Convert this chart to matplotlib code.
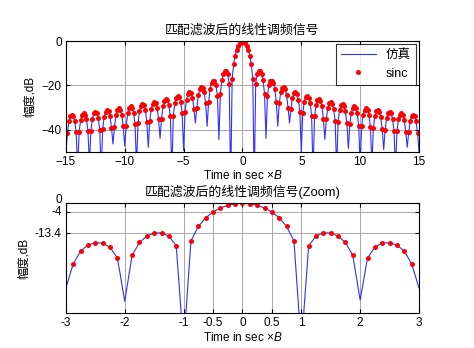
import numpy as np
import matplotlib
matplotlib.use("Agg")
import matplotlib.pyplot as plt

plt.rcParams['font.family'] = ['Liberation Sans', 'Noto Sans CJK SC']
plt.rcParams['mathtext.fontset'] = 'custom'
plt.rcParams['mathtext.rm'] = 'Liberation Sans'
plt.rcParams['mathtext.it'] = 'Liberation Sans:italic'

nan = np.nan

# sinc samples in dB, t*B = -15 ... 15, step 1/8 (zeros at the integers are nan)
sinc_db = [
    nan, -41.7, -36.3, -33.9, -33.2, -33.8, -36.0, -41.3,
    nan, -41.1, -35.7, -33.3, -32.6, -33.2, -35.4, -40.6,
    nan, -40.5, -35.1, -32.7, -31.9, -32.5, -34.7, -40.0,
    nan, -39.8, -34.4, -31.9, -31.2, -31.8, -34.0, -39.2,
    nan, -39.0, -33.6, -31.2, -30.4, -31.0, -33.2, -38.4,
    nan, -38.2, -32.7, -30.3, -29.5, -30.1, -32.3, -37.5,
    nan, -37.2, -31.8, -29.4, -28.5, -29.1, -31.3, -36.5,
    nan, -36.2, -30.7, -28.3, -27.4, -28.0, -30.2, -35.3,
    nan, -35.0, -29.5, -27.1, -26.2, -26.7, -28.9, -34.0,
    nan, -33.7, -28.1, -25.6, -24.8, -25.2, -27.4, -32.5,
    nan, -32.0, -26.5, -23.9, -23.0, -23.5, -25.5, -30.6,
    nan, -30.1, -24.4, -21.8, -20.8, -21.2, -23.2, -28.2,
    nan, -27.5, -21.7, -19.0, -17.9, -18.1, -20.0, -24.8,
    nan, -23.7, -17.8, -14.9, -13.5, -13.4, -14.9, -19.3,
    nan, -17.1, -10.5, -6.6, -3.9, -2.1, -0.9, -0.2,
    0.0, -0.2, -0.9, -2.1, -3.9, -6.6, -10.5, -17.1,
    nan, -19.3, -14.9, -13.4, -13.5, -14.9, -17.8, -23.7,
    nan, -24.8, -20.0, -18.1, -17.9, -19.0, -21.7, -27.5,
    nan, -28.2, -23.2, -21.2, -20.8, -21.8, -24.4, -30.1,
    nan, -30.6, -25.5, -23.5, -23.0, -23.9, -26.5, -32.0,
    nan, -32.5, -27.4, -25.2, -24.8, -25.6, -28.1, -33.7,
    nan, -34.0, -28.9, -26.7, -26.2, -27.1, -29.5, -35.0,
    nan, -35.3, -30.2, -28.0, -27.4, -28.3, -30.7, -36.2,
    nan, -36.5, -31.3, -29.1, -28.5, -29.4, -31.8, -37.2,
    nan, -37.5, -32.3, -30.1, -29.5, -30.3, -32.7, -38.2,
    nan, -38.4, -33.2, -31.0, -30.4, -31.2, -33.6, -39.0,
    nan, -39.2, -34.0, -31.8, -31.2, -31.9, -34.4, -39.8,
    nan, -40.0, -34.7, -32.5, -31.9, -32.7, -35.1, -40.5,
    nan, -40.6, -35.4, -33.2, -32.6, -33.3, -35.7, -41.1,
    nan, -41.3, -36.0, -33.8, -33.2, -33.9, -36.3, -41.7,
    nan,
]

# simulated output at the integer points (t*B = -15 ... 15), null depths in dB
null_db = [-50.5, -58, -56, -60, -46.5, -47.5, -57, -48, -44, -60, -49.5,
           -37, -38.5, -44.5, -65, 0.0, -65, -44.0, -38.5, -37, -50, -60,
           -44.4, -58, -48.5, -57, -56, -49, -58, -48, -50]

t = np.arange(len(sinc_db)) * 0.125 - 15
sinc_db = np.array(sinc_db)
sim_db = sinc_db.copy()
sim_db[::8] = null_db

fig = plt.figure(figsize=(4.74, 3.48), dpi=100)
ax1 = fig.add_axes([0.139, 0.564, 0.745, 0.318])
ax2 = fig.add_axes([0.139, 0.0997, 0.745, 0.316])

for ax in (ax1, ax2):
    ax.plot(t, sim_db, color='#3030ff', lw=0.8, label='仿真')
    ax.plot(t, sinc_db, 'o', color='#ff0000', ms=3.6, mec='none', label='sinc')
    ax.grid(True, color='#a8a8a8', lw=0.7)
    ax.tick_params(direction='in', length=3, top=True, right=True,
                   labelsize=8.5, pad=3)
    for s in ax.spines.values():
        s.set_linewidth(0.8)
    ax.set_ylabel('幅度,dB', fontsize=8.5, labelpad=4)
    ax.set_xlabel(r'Time in sec $\times B$', fontsize=8.5, labelpad=1)

ax1.set_xlim(-15, 15)
ax1.set_ylim(-50, 0)
ax1.set_xticks([-15, -10, -5, 0, 5, 10, 15])
ax1.set_yticks([-40, -20, 0])
ax1.set_title('匹配滤波后的线性调频信号', fontsize=9.3, pad=5)
leg = ax1.legend(loc='upper right', fontsize=9, frameon=True, fancybox=False,
                 borderaxespad=0.25, handlelength=2.8, borderpad=0.4,
                 labelspacing=0.5)
leg.get_frame().set_edgecolor('black')
leg.get_frame().set_linewidth(0.8)

ax2.set_xlim(-3, 3)
ax2.set_ylim(-50, 0)
ax2.set_xticks([-3, -2, -1, -0.5, 0, 0.5, 1, 2, 3])
ax2.set_xticklabels(['-3', '-2', '-1', '-0.5', '0', '0.5', '1', '2', '3'])
ax2.set_yticks([-13.4, -4, 0])
ax2.set_yticklabels(['-13.4', '-4', '0'])
# lift the "0" label so it clears "-4" just below it
ax2.get_yticklabels()[2].set_va('baseline')
ax2.get_yticklabels()[1].set_va('center')
ax2.set_title('匹配滤波后的线性调频信号(Zoom)', fontsize=9.3, pad=5)

fig.savefig('out.png', dpi=100)
